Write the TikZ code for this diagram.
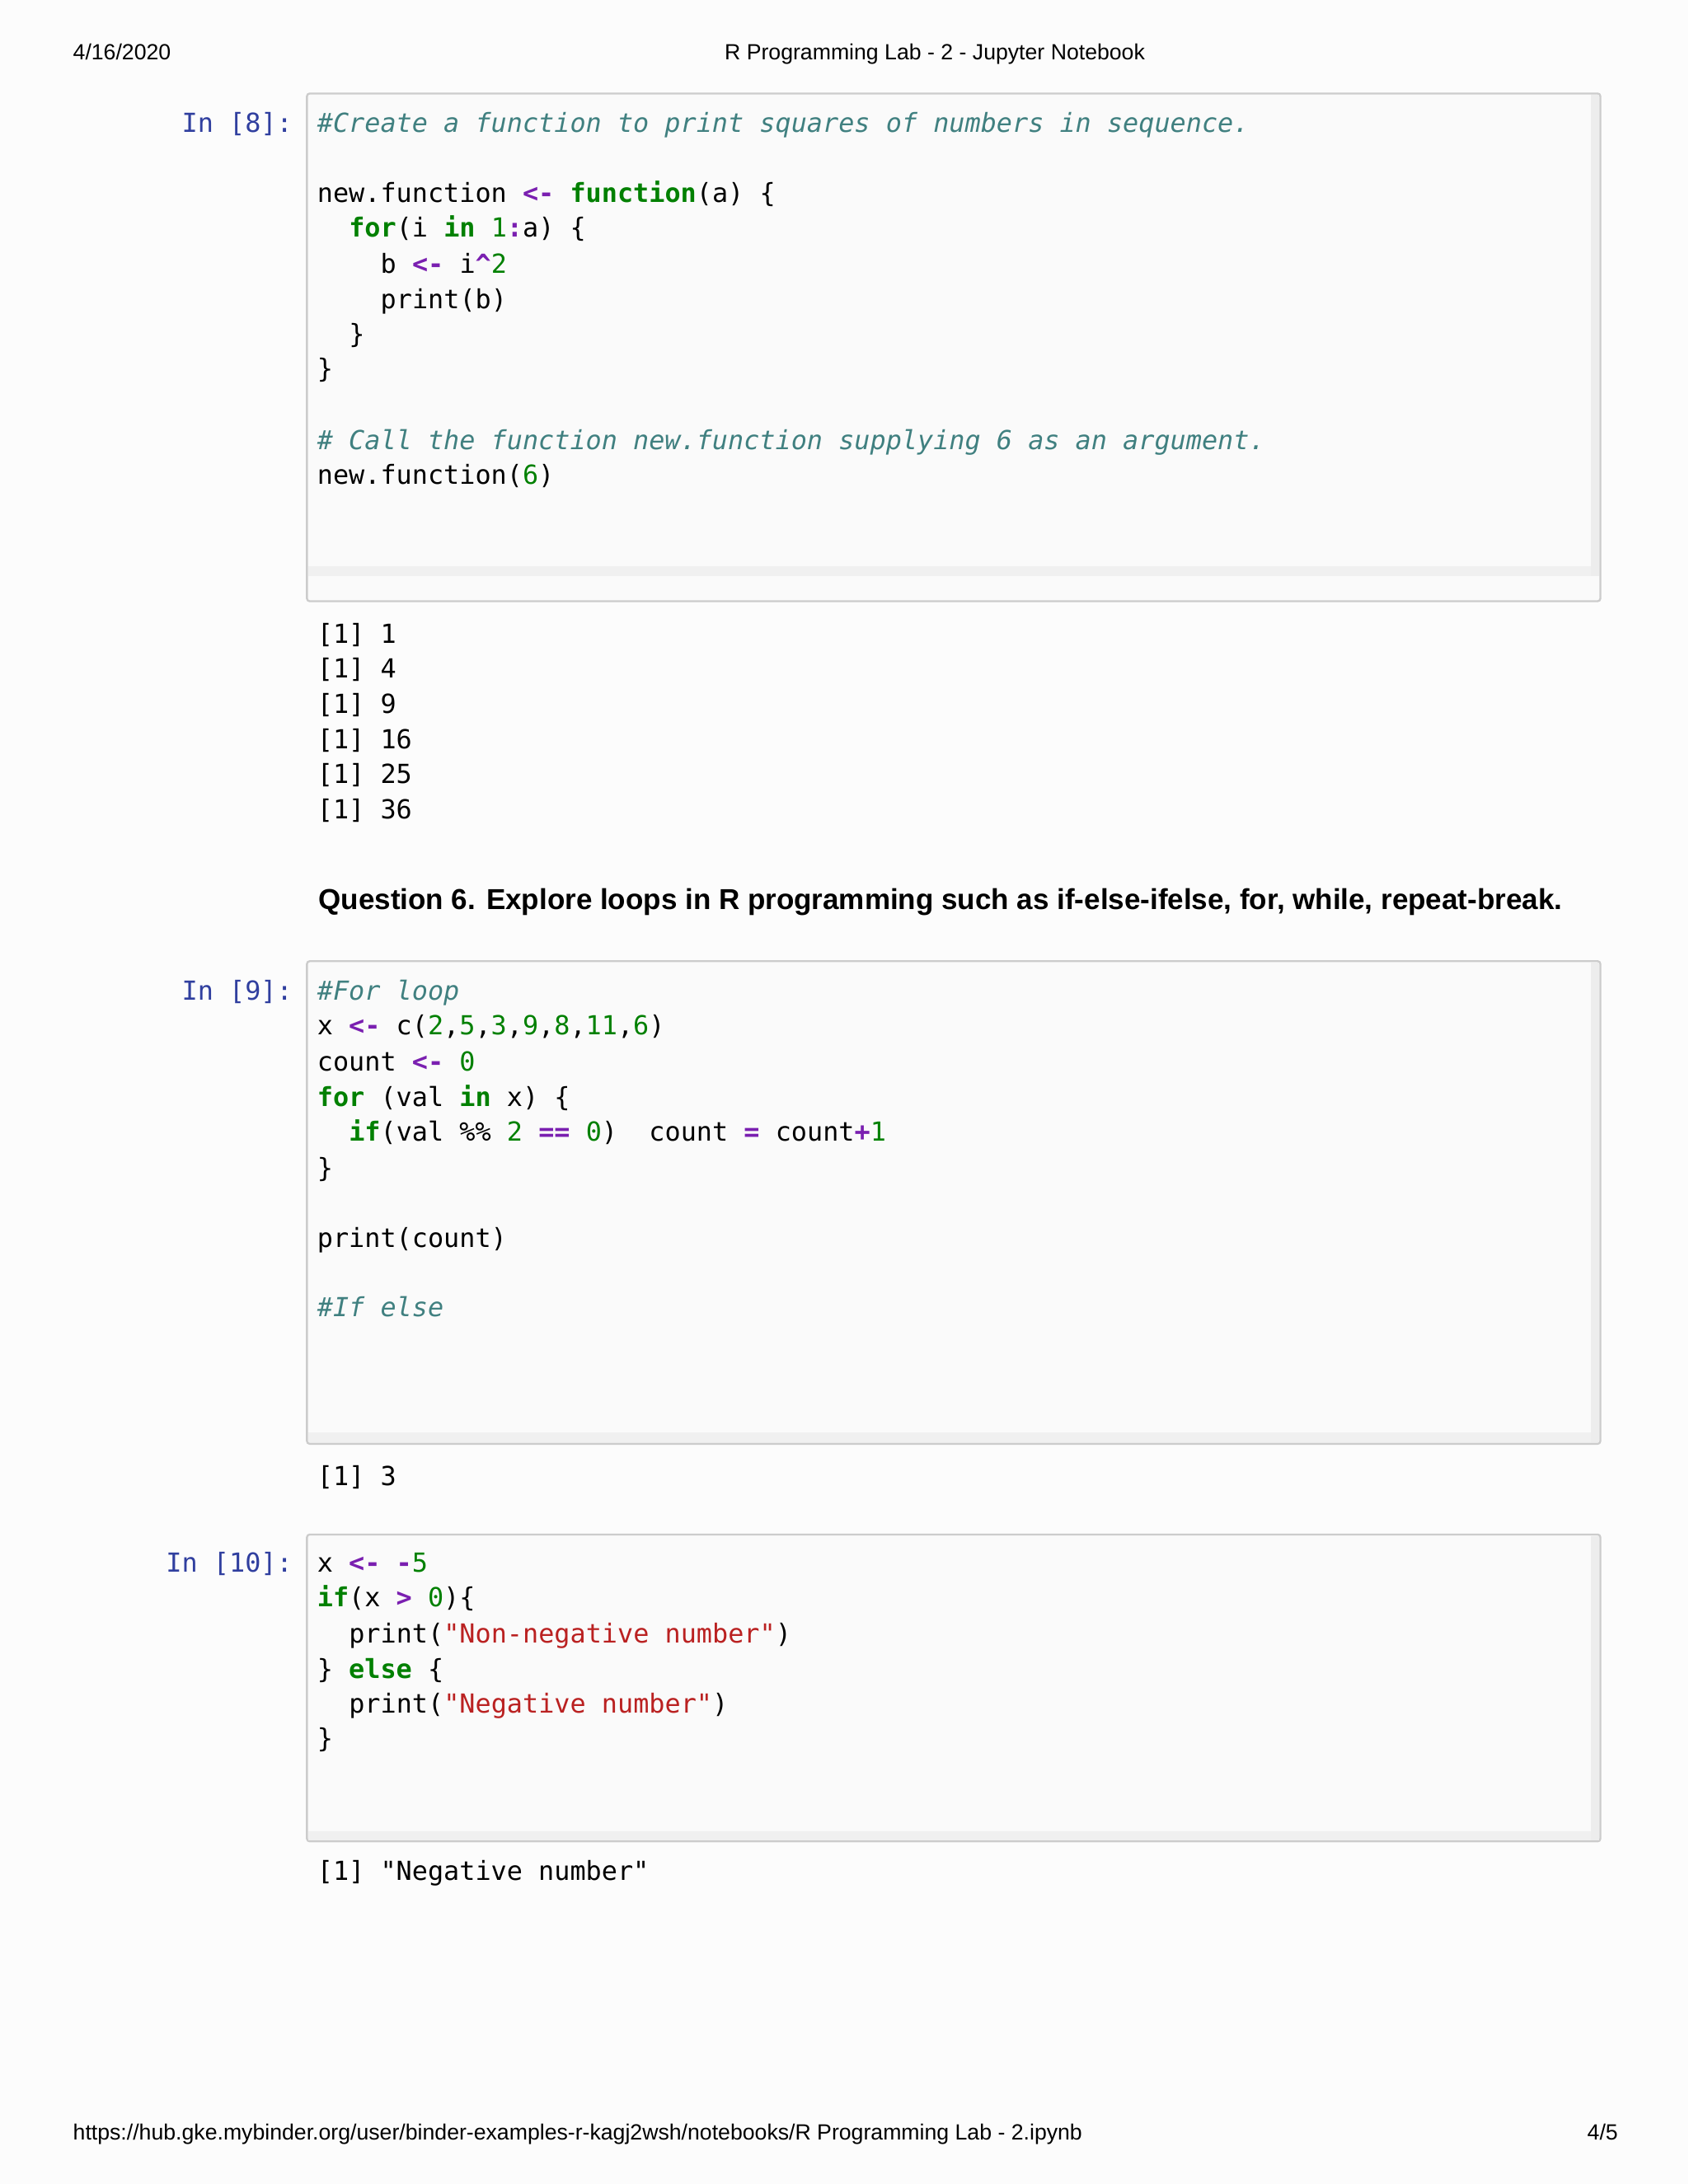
\documentclass[tikz,border=0pt]{standalone}
\usepackage{fontspec}
\setmainfont{Liberation Sans}
\setmonofont{DejaVu Sans Mono}[Scale=1]
\definecolor{prm}{HTML}{303F9F}
\definecolor{cmt}{HTML}{408080}
\definecolor{kwc}{HTML}{008000}
\definecolor{opc}{HTML}{7A1FB0}
\definecolor{stc}{HTML}{BA2121}
\newcommand{\kw}[1]{\textcolor{kwc}{\bfseries #1}}
\newcommand{\op}[1]{\textcolor{opc}{\bfseries #1}}
\newcommand{\nm}[1]{\textcolor{kwc}{#1}}
\newcommand{\st}[1]{\textcolor{stc}{#1}}
\newcommand{\cm}[1]{\textcolor{cmt}{\itshape #1}}
\begin{document}
\begin{tikzpicture}[x=0.5078pt,y=-0.5078pt,
  code/.style={anchor=base west,inner sep=0pt,font=\ttfamily\fontsize{9.55}{11}\selectfont},
  prompt/.style={anchor=base east,inner sep=0pt,text=prm,font=\ttfamily\fontsize{9.55}{11}\selectfont},
  hdr/.style={inner sep=0pt,font=\fontsize{8.0}{10}\selectfont},
  cell/.style={draw=black!20,fill=black!2,line width=0.7pt,rounded corners=1pt}]
\useasboundingbox (0,0) rectangle (1210,1565.6);
\fill[black!1] (0,0) rectangle (1210,1565.6);
% header
\node[hdr,anchor=base west] (h1) at (52,43) {4/16/2020};
\node[hdr,anchor=base] (h2) at (670,43) {R Programming Lab - 2 - Jupyter Notebook};
% cell 1
\draw[cell] (220,67) rectangle (1147,431);
\fill[black!6] (221,406) rectangle (1146,413);
\fill[black!7] (1140,68) rectangle (1146,413);
\node[prompt] (p8) at (210,95) {In [8]:};
\node[code] (a1) at (227,95) {\cm{\#Create a function to print squares of numbers in sequence.}};
\node[code] (a2) at (227,145) {new.function \op{<-} \kw{function}(a) \{};
\node[code] (a3) at (249.7,170) {\kw{for}(i \kw{in} \nm{1}\op{:}a) \{};
\node[code] (a4) at (272.4,196) {b \op{<-} i\op{\^{}}\nm{2}};
\node[code] (a5) at (272.4,221) {print(b)};
\node[code] (a6) at (249.7,246) {\}};
\node[code] (a7) at (227,271) {\}};
\node[code] (a8) at (227,322) {\cm{\# Call the function new.function supplying 6 as an argument.}};
\node[code] (a9) at (227,347) {new.function(\nm{6})};
\foreach \v [count=\i] in {1,4,9,16,25,36}
  \node[code] (o\i) at (227,461+25.2*\i-25.2) {[1] \v};
% question
\node[inner sep=0pt,anchor=base west,font=\bfseries\fontsize{10.5}{12}\selectfont] (q) at (228,652) {Question 6. Explore loops in R programming such as if-else-ifelse, for, while, repeat-break.};
% cell 2
\draw[cell] (220,689) rectangle (1147,1035);
\fill[black!6] (221,1027) rectangle (1146,1034);
\fill[black!7] (1140,690) rectangle (1146,1034);
\node[prompt] (p9) at (210,717) {In [9]:};
\node[code] (b1) at (227,717) {\cm{\#For loop}};
\node[code] (b2) at (227,742) {x \op{<-} c(\nm{2},\nm{5},\nm{3},\nm{9},\nm{8},\nm{11},\nm{6})};
\node[code] (b3) at (227,768) {count \op{<-} \nm{0}};
\node[code] (b4) at (227,793) {\kw{for} (val \kw{in} x) \{};
\node[code] (b5) at (249.7,818) {\kw{if}(val \%\% \nm{2} \op{==} \nm{0})~~count \op{=} count\op{+}\nm{1}};
\node[code] (b6) at (227,844) {\}};
\node[code] (b7) at (227,894) {print(count)};
\node[code] (b8) at (227,944) {\cm{\#If else}};
\node[code] (ob) at (227,1065) {[1] 3};
% cell 3
\draw[cell] (220,1100) rectangle (1147,1320);
\fill[black!6] (221,1313) rectangle (1146,1319);
\fill[black!7] (1140,1101) rectangle (1146,1319);
\node[prompt] (p10) at (210,1127) {In [10]:};
\node[code] (c1) at (227,1127) {x \op{<-} \op{-}\nm{5}};
\node[code] (c2) at (227,1152) {\kw{if}(x \op{>} \nm{0})\{};
\node[code] (c3) at (249.7,1178) {print(\st{"Non-negative number"})};
\node[code] (c4) at (227,1203) {\} \kw{else} \{};
\node[code] (c5) at (249.7,1228) {print(\st{"Negative number"})};
\node[code] (c6) at (227,1253) {\}};
\node[code] (oc) at (227,1348) {[1] "Negative number"};
% footer
\node[hdr,anchor=base west] (f1) at (52,1534) {https://hub.gke.mybinder.org/user/binder-examples-r-kagj2wsh/notebooks/R Programming Lab - 2.ipynb};
\node[hdr,anchor=base east] (f2) at (1160,1534) {4/5};
\end{tikzpicture}
\end{document}
